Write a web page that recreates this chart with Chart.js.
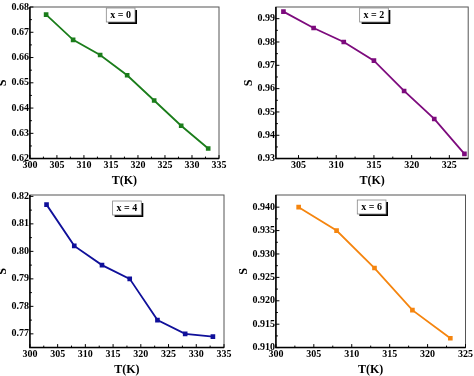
<!DOCTYPE html>
<html>
<head>
<meta charset="utf-8">
<script src="https://cdn.jsdelivr.net/npm/chart.js@4"></script>
<style>
  body { margin: 0; background: #fff; }
  .cell { position: absolute; width: 237px; height: 188px; }
</style>
</head>
<body>
<div class="cell" style="left:0;top:0"><canvas id="c0" width="237" height="188"></canvas></div>
<div class="cell" style="left:237px;top:0"><canvas id="c2" width="237" height="188"></canvas></div>
<div class="cell" style="left:0;top:188px"><canvas id="c4" width="237" height="188"></canvas></div>
<div class="cell" style="left:237px;top:188px"><canvas id="c6" width="237" height="188"></canvas></div>
<script>
// temperatures (K) and S values
const temps0 = [303, 308, 313, 318, 323, 328, 333];
const s0 = [0.677, 0.667, 0.661, 0.653, 0.643, 0.633, 0.624];

const temps2 = [303, 307, 311, 315, 319, 323, 327];
const s2 = [0.993, 0.986, 0.980, 0.972, 0.959, 0.947, 0.932];

const temps4 = [303, 308, 313, 318, 323, 328, 333];
const s4 = [0.817, 0.802, 0.795, 0.790, 0.775, 0.770, 0.769];

const temps6 = [303, 308, 313, 318, 323];
const s6 = [0.940, 0.935, 0.927, 0.918, 0.912];

const labels = ['x = 0', 'x = 2', 'x = 4', 'x = 6'];

const FONT = 'Liberation Serif';

// box frame + inward ticks + "x = n" label
const framePlugin = {
  id: 'frame',
  afterDraw(chart, args, opts) {
    const ctx = chart.ctx;
    const a = chart.chartArea;
    ctx.save();
    ctx.strokeStyle = '#555';
    ctx.lineWidth = 1;
    ctx.strokeRect(a.left, a.top, a.right - a.left, a.bottom - a.top);
    ctx.strokeStyle = '#000';
    ctx.lineWidth = 1.5;
    ctx.beginPath();
    ctx.moveTo(a.left, a.top);
    ctx.lineTo(a.left, a.bottom);
    ctx.lineTo(a.right, a.bottom);
    ctx.stroke();

    ctx.lineWidth = 1;
    const xs = chart.scales.x, ys = chart.scales.y;
    const xt = xs.ticks.map(t => t.value);
    const yt = ys.ticks.map(t => t.value);
    ctx.beginPath();
    xt.forEach((v, i) => {
      const p = xs.getPixelForValue(v);
      ctx.moveTo(p, a.bottom); ctx.lineTo(p, a.bottom - 3.5);
      if (i < xt.length - 1) {
        const m = xs.getPixelForValue((v + xt[i + 1]) / 2);
        ctx.moveTo(m, a.bottom); ctx.lineTo(m, a.bottom - 2);
      }
    });
    yt.forEach((v, i) => {
      const p = ys.getPixelForValue(v);
      ctx.moveTo(a.left, p); ctx.lineTo(a.left + 3.5, p);
      if (i < yt.length - 1) {
        const m = ys.getPixelForValue((v + yt[i + 1]) / 2);
        ctx.moveTo(a.left, m); ctx.lineTo(a.left + 2, m);
      }
    });
    ctx.stroke();

    // label box with shadow
    ctx.font = 'bold 10px "' + FONT + '"';
    const w = ctx.measureText(opts.text).width + 8;
    const h = 14;
    const bx = a.left + (a.right - a.left) * opts.fx - w / 2;
    const by = a.top + opts.dy;
    ctx.fillStyle = '#000';
    ctx.fillRect(bx + 2, by + 2, w, h);
    ctx.fillStyle = '#fff';
    ctx.fillRect(bx, by, w, h);
    ctx.strokeStyle = '#888';
    ctx.lineWidth = 0.8;
    ctx.strokeRect(bx, by, w, h);
    ctx.fillStyle = '#000';
    ctx.textAlign = 'center';
    ctx.textBaseline = 'middle';
    ctx.fillText(opts.text, bx + w / 2, by + h / 2 + 0.5);
    ctx.restore();
  }
};

function makeChart(id, temps, vals, color, label, xr, yr, yStep, yDec, fx, dy, pad) {
  new Chart(document.getElementById(id), {
    type: 'line',
    data: {
      datasets: [{
        data: temps.map((t, i) => ({ x: t, y: vals[i] })),
        borderColor: color,
        backgroundColor: color,
        borderWidth: 1.8,
        pointStyle: 'rect',
        pointRadius: 2,
        tension: 0
      }]
    },
    options: {
      responsive: false,
      animation: false,
      layout: { padding: pad },
      plugins: {
        legend: { display: false },
        tooltip: { enabled: false },
        frame: { text: label, fx: fx, dy: dy }
      },
      scales: {
        x: {
          type: 'linear',
          min: xr[0], max: xr[1],
          grid: { display: false, drawTicks: false },
          border: { display: false },
          ticks: {
            stepSize: 5, includeBounds: false, padding: 1,
            color: '#000', font: { family: FONT, weight: 'bold', size: 10 }
          },
          title: {
            display: true, text: 'T(K)', color: '#000', padding: { top: 1, bottom: 0 },
            font: { family: FONT, weight: 'bold', size: 12 }
          }
        },
        y: {
          min: yr[0], max: yr[1],
          grid: { display: false, drawTicks: false },
          border: { display: false },
          ticks: {
            stepSize: yStep, includeBounds: false, padding: 1,
            color: '#000', font: { family: FONT, weight: 'bold', size: 10 },
            callback: v => v.toFixed(yDec)
          },
          title: {
            display: true, text: 'S', color: '#000', padding: { top: 0, bottom: 0 },
            font: { family: FONT, weight: 'bold', size: 12 }
          }
        }
      }
    },
    plugins: [framePlugin]
  });
}

makeChart('c0', temps0, s0, '#1b7d1b', labels[0], [300, 335], [0.62, 0.68], 0.01, 2, 0.48, 1,
  { left: -4, right: 18, top: -3, bottom: 0 });
makeChart('c2', temps2, s2, '#7d0b7d', labels[1], [302, 327.5], [0.93, 0.995], 0.01, 2, 0.51, 1,
  { left: 5, right: 5, top: -3, bottom: 0 });
makeChart('c4', temps4, s4, '#10109a', labels[2], [300, 335], [0.765, 0.8205], 0.01, 2, 0.50, 6,
  { left: -4, right: 13, top: -4, bottom: -1 });
makeChart('c6', temps6, s6, '#f5850f', labels[3], [300, 325], [0.910, 0.9426], 0.005, 3, 0.505, 5,
  { left: 0, right: 5, top: -2, bottom: -1 });
</script>
</body>
</html>
